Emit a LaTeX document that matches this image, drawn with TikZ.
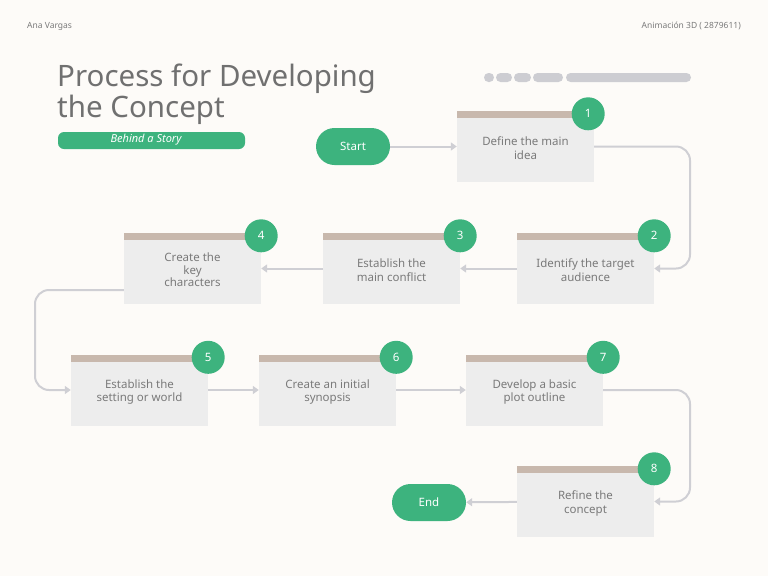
\documentclass[tikz,border=0pt]{standalone}
\usepackage{fontspec}
\setmainfont{Noto Sans}
\usetikzlibrary{arrows.meta,calc}
\definecolor{bgc}{HTML}{FDFBF8}
\definecolor{boxc}{HTML}{EDEDED}
\definecolor{barc}{HTML}{C8B8AD}
\definecolor{grn}{HTML}{3DB37E}
\definecolor{txtc}{HTML}{7A7A7A}
\definecolor{titc}{HTML}{707070}
\definecolor{linec}{HTML}{CFCFD4}
\definecolor{pillc}{HTML}{CDCDD2}
\tikzset{
  stepbox/.style={fill=boxc, minimum width=137pt, minimum height=71pt, inner sep=0pt,
    text=txtc, align=center, font=\fontsize{11.5}{13.5}\selectfont,
    path picture={\fill[barc] (path picture bounding box.north west) rectangle ([yshift=-7pt]path picture bounding box.north east);}},
  num/.style={circle, fill=grn, minimum size=33pt, inner sep=0pt, text=white, font=\fontsize{11.5}{12}\selectfont},
  term/.style={fill=grn, rounded corners=18.5pt, minimum width=74pt, minimum height=37pt, inner sep=0pt, text=white, font=\fontsize{11.5}{12}\selectfont},
  conn/.style={draw=linec, line width=2pt, -{Triangle[width=8pt,length=6pt]}, rounded corners=14pt},
  small/.style={text=txtc, font=\fontsize{8.5}{9}\selectfont, inner sep=0pt},
}
\begin{document}
\begin{tikzpicture}[x=1pt,y=-1pt]
\fill[bgc] (0,0) rectangle (768,576);
\useasboundingbox (0,0) rectangle (768,576);
% header
\node[small, anchor=west] (author) at (27,26) {Ana Vargas};
\node[small, anchor=east] (course) at (741,26) {Animación 3D ( 2879611)};
% title
\node[anchor=north west, inner sep=0pt, text=titc, align=left, font=\fontsize{29.5}{26}\selectfont] (title) at (57,64) {Process for Developing\\the Concept};
\fill[grn, rounded corners=6pt] (58,132) rectangle (245,149);
\node[text=white, inner sep=0pt, font=\fontsize{11}{12}\selectfont\itshape] (sub) at (146,139.5) {Behind a Story};
% pills
\fill[pillc, rounded corners=4.5pt] (484,73) rectangle (494,82);
\fill[pillc, rounded corners=4.5pt] (496,73) rectangle (512,82);
\fill[pillc, rounded corners=4.5pt] (514,73) rectangle (531,82);
\fill[pillc, rounded corners=4.5pt] (533,73) rectangle (563,82);
\fill[pillc, rounded corners=4.5pt] (566,73) rectangle (691,82);
% terminals
\node[term] (st) at (353,146.5) {Start};
\node[term] (en) at (429,502.5) {End};
% boxes
\node[stepbox] (b1) at (525.5,146.5) {\\[-1pt]Define the main\\idea};
\node[stepbox] (b2) at (585.5,268.5) {\\[-1pt]Identify the target\\audience};
\node[stepbox] (b3) at (391.5,268.5) {\\[-1pt]Establish the\\main conflict};
\node[stepbox] (b4) at (192.5,268.5) {\\[-1.5pt]Create the\\[-1pt]key\\[-1pt]characters};
\node[stepbox] (b5) at (139.5,390) {\\[-1pt]Establish the\\setting or world};
\node[stepbox] (b6) at (327.5,390) {\\[-1pt]Create an initial\\synopsis};
\node[stepbox] (b7) at (534.5,390) {\\[-1pt]Develop a basic\\plot outline};
\node[stepbox] (b8) at (585.5,501.5) {\\[-1pt]Refine the\\concept};
% numbers
\node[num] (n1) at ([xshift=-6pt,yshift=-3pt]b1.north east) {1};
\node[num] (n2) at ([yshift=-3pt]b2.north east) {2};
\node[num] (n3) at ([yshift=-3pt]b3.north east) {3};
\node[num] (n4) at ([yshift=-3pt]b4.north east) {4};
\node[num] (n5) at ([yshift=-3pt]b5.north east) {5};
\node[num] (n6) at ([yshift=-3pt]b6.north east) {6};
\node[num] (n7) at ([yshift=-3pt]b7.north east) {7};
\node[num] (n8) at ([yshift=-3pt]b8.north east) {8};
% connectors
\coordinate (c1) at (690,268.5);
\coordinate (c2) at (35,390);
\coordinate (c3) at (690,501.5);
\draw[conn] (st) -- (b1);
\draw[conn] (b1.east) -| (c1) -- (b2.east);
\draw[conn] (b2) -- (b3);
\draw[conn] (b3) -- (b4);
\draw[conn] ([yshift=-21.5pt]b4.west) -| (c2) -- (b5.west);
\draw[conn] (b5) -- (b6);
\draw[conn] (b6) -- (b7);
\draw[conn] (b7.east) -| (c3) -- (b8.east);
\draw[conn] (b8) -- (en);
\end{tikzpicture}
\end{document}
